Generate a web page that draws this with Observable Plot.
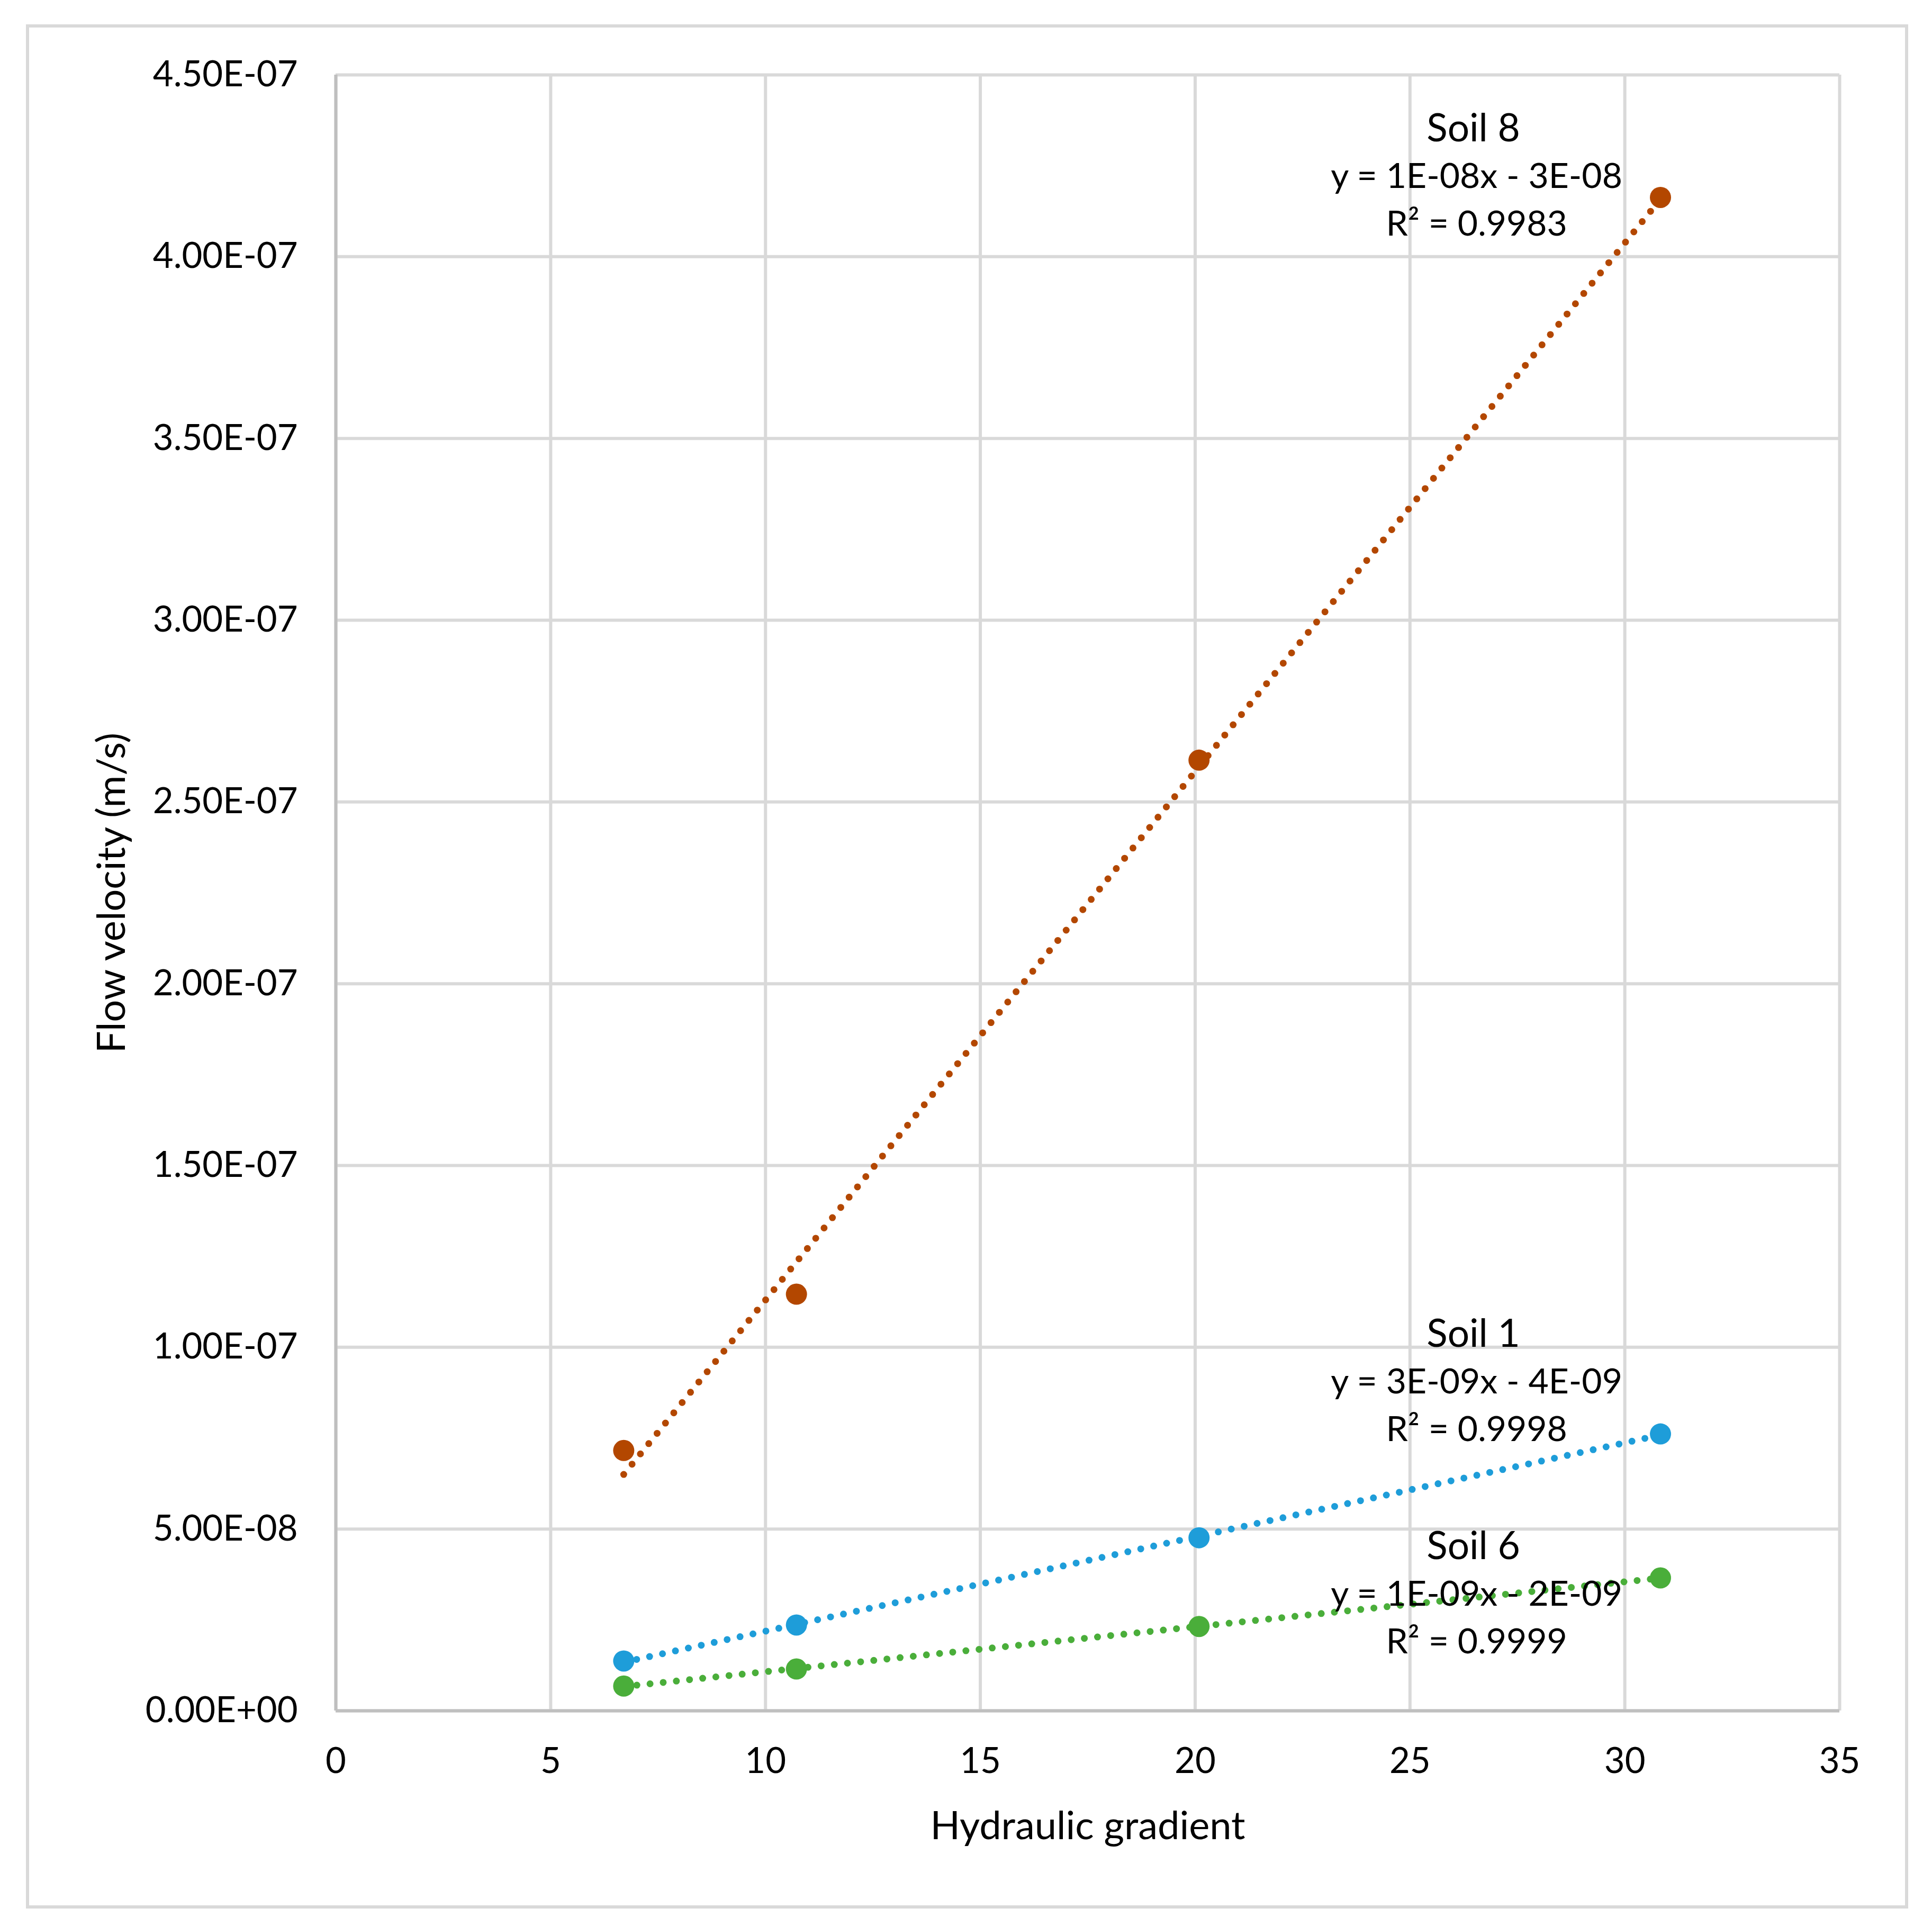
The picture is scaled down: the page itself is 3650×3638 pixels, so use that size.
<!DOCTYPE html>
<html>
<head>
<meta charset="utf-8">
<script src="https://cdn.jsdelivr.net/npm/d3@7"></script>
<script src="https://cdn.jsdelivr.net/npm/@observablehq/plot@0.6"></script>
<style>
  html, body { margin: 0; padding: 0; background: #fff; }
  #wrap { position: relative; width: 3650px; height: 3638px; background: #fff; }
  #frame { position: absolute; left: 49px; top: 46px; width: 3556px; height: 3559px;
           box-sizing: border-box; border: 6px solid #d9d9d9; pointer-events: none; }
  #chart svg { display: block; }
</style>
</head>
<body>
<div id="wrap"><div id="chart"></div><div id="frame"></div></div>
<script>
// ---- data ----
const gradient = [6.70, 10.72, 20.09, 30.83];          // hydraulic gradient (x)
const soil8 = [7.16e-8, 1.146e-7, 2.615e-7, 4.163e-7];  // flow velocity (m/s)
const soil1 = [1.37e-8, 2.36e-8, 4.76e-8, 7.615e-8];
const soil6 = [6.8e-9, 1.15e-8, 2.32e-8, 3.655e-8];
const seriesNames = ["Soil 8", "Soil 1", "Soil 6"];
const seriesColors = ["#b34700", "#1e9dd9", "#4aae3a"];

const xTicks = [0, 5, 10, 15, 20, 25, 30, 35];
const yTicks = [0, 5e-8, 1e-7, 1.5e-7, 2e-7, 2.5e-7, 3e-7, 3.5e-7, 4e-7, 4.5e-7];

// trendline annotations (as in the reference)
const annEquations = ["y = 1E-08x - 3E-08", "y = 3E-09x - 4E-09", "y = 1E-09x - 2E-09"];
const annR2 = ["R² = 0.9983", "R² = 0.9998", "R² = 0.9999"];
const annX = [26.55, 26.55, 26.55];
const annY = [4.189e-7, 8.736e-8, 2.897e-8];

const xLabel = "Hydraulic gradient";
const yLabel = "Flow velocity (m/s)";

// ---- build tables ----
const seriesValues = [soil8, soil1, soil6];
const rows = [];
seriesNames.forEach((s, i) => gradient.forEach((g, j) => rows.push({series: s, x: g, y: seriesValues[i][j]})));
const ann = seriesNames.map((s, i) => ({series: s, x: annX[i], y: annY[i], eq: annEquations[i], r2: annR2[i]}));

function fmtExp(v) {
  const [m, e] = v.toExponential(2).split("e");
  const n = +e;
  return `${m}E${n < 0 ? "-" : "+"}${String(Math.abs(n)).padStart(2, "0")}`;
}

const W = 3650, H = 3638;
const chart = Plot.plot({
  width: W,
  height: H,
  marginLeft: 634,
  marginRight: 175,
  marginTop: 141,
  marginBottom: 407,
  style: {fontFamily: "Lato", background: "#fff", color: "#000"},
  x: {domain: [0, 35]},
  y: {domain: [0, 4.5e-7]},
  color: {domain: seriesNames, range: seriesColors},
  marks: [
    Plot.gridX(xTicks, {stroke: "#d9d9d9", strokeOpacity: 1, strokeWidth: 6}),
    Plot.gridY(yTicks, {stroke: "#d9d9d9", strokeOpacity: 1, strokeWidth: 6}),
    Plot.ruleX([0], {stroke: "#bfbfbf", strokeWidth: 6}),
    Plot.ruleY([0], {stroke: "#bfbfbf", strokeWidth: 6}),
    Plot.axisX(xTicks, {tickSize: 0, tickPadding: 70, fontSize: 67, label: null}),
    Plot.axisY(yTicks, {tickSize: 0, tickPadding: 72, fontSize: 67, tickFormat: fmtExp, label: null}),
    Plot.linearRegressionY(rows, {x: "x", y: "y", stroke: "series", ci: 0,
      strokeWidth: 13, strokeDasharray: "0 25", strokeLinecap: "round"}),
    Plot.dot(rows, {x: "x", y: "y", fill: "series", r: 20, stroke: null}),
    Plot.text(ann, {x: "x", y: "y", text: "series", fontSize: 73, lineAnchor: "bottom", dy: -88, dx: -6, fill: "#000"}),
    Plot.text(ann, {x: "x", y: "y", text: "eq", fontSize: 66, lineAnchor: "bottom", fill: "#000"}),
    Plot.text(ann, {x: "x", y: "y", text: "r2", fontSize: 66, lineAnchor: "bottom", dy: 90, fill: "#000"}),
    Plot.text([xLabel], {frameAnchor: "bottom", lineAnchor: "bottom", textAnchor: "middle", dy: 242, fontSize: 74, fill: "#000"}),
    Plot.text([yLabel], {frameAnchor: "left", lineAnchor: "bottom", textAnchor: "middle", rotate: -90, dx: -399, fontSize: 74, fill: "#000"})
  ]
});
document.getElementById("chart").appendChild(chart);
</script>
</body>
</html>
